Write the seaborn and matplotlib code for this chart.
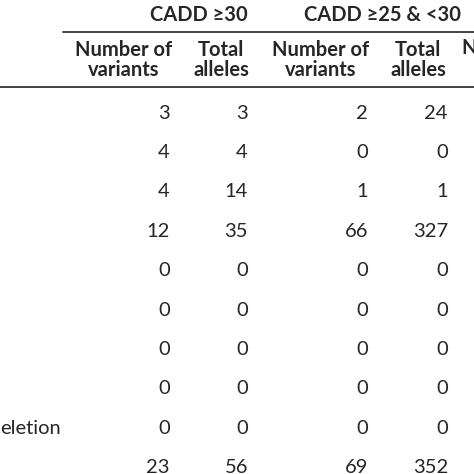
import matplotlib
matplotlib.use("Agg")
import matplotlib.pyplot as plt
import seaborn as sns

group_labels = ["CADD \u226530", "CADD \u226525 & <30"]
sub_labels = ["Number of\nvariants", "Total\nalleles", "Number of\nvariants", "Total\nalleles"]
row_labels = ["", "", "", "", "", "", "", "", "eletion", ""]
n_var_30 = [3, 4, 4, 12, 0, 0, 0, 0, 0, 23]
alleles_30 = [3, 4, 14, 35, 0, 0, 0, 0, 0, 56]
n_var_25 = [2, 0, 1, 66, 0, 0, 0, 0, 0, 69]
alleles_25 = [24, 0, 1, 327, 0, 0, 0, 0, 0, 352]

sns.set_theme(style="white")
plt.rcParams["font.family"] = ["Lato", "DejaVu Sans"]

fig = plt.figure(figsize=(4.74, 4.74), dpi=100)
ax = fig.add_axes([0, 0, 1, 1])
ax.set_xlim(0, 474)
ax.set_ylim(474, 0)
ax.axis("off")

fs = 14.5
ax.text(199, 15, group_labels[0], ha="center", va="center", fontsize=fs, fontweight="bold")
ax.text(382, 15, group_labels[1], ha="center", va="center", fontsize=fs, fontweight="bold")
ax.text(461, 48, "N", ha="left", va="center", fontsize=fs, fontweight="bold")
ax.plot([63, 474], [32, 32], color="#333333", lw=1.3)
ax.plot([0, 474], [87, 87], color="#333333", lw=1.3)

sub_x = [124, 221, 321, 418]
for x, s in zip(sub_x, sub_labels):
    ax.text(x, 60, s, ha="center", va="center", fontsize=fs, fontweight="bold", linespacing=1.05)

col_right = [170, 248, 368, 448]
cols = [n_var_30, alleles_30, n_var_25, alleles_25]
for i in range(len(row_labels)):
    y = 113 + i * 39.4
    ax.text(0, y, row_labels[i], ha="left", va="center", fontsize=fs)
    for xr, col in zip(col_right, cols):
        ax.text(xr, y, str(col[i]), ha="right", va="center", fontsize=fs)

fig.savefig("out.png", dpi=100)
